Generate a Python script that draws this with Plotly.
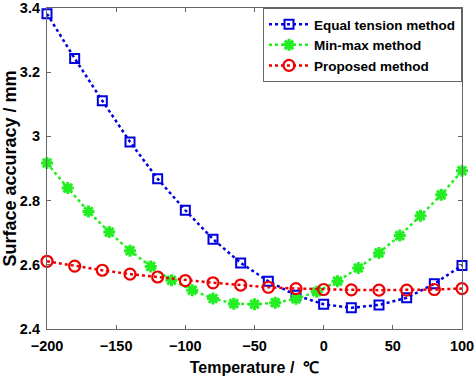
import plotly.graph_objects as go

x_eq = [-200, -180, -160, -140, -120, -100, -80, -60, -40, -20, 0, 20, 40, 60, 80, 100]
y_eq = [3.382, 3.243, 3.111, 2.983, 2.868, 2.770, 2.680, 2.606, 2.549, 2.505, 2.477, 2.466, 2.475, 2.497, 2.541, 2.598]

x_mm = [-200, -185, -170, -155, -140, -125, -110, -95, -80, -65, -50, -35, -20, -5, 10, 25, 40, 55, 70, 85, 100]
y_mm = [2.917, 2.839, 2.766, 2.702, 2.644, 2.595, 2.552, 2.521, 2.495, 2.479, 2.477, 2.482, 2.494, 2.516, 2.549, 2.590, 2.637, 2.691, 2.753, 2.818, 2.893]

x_pr = [-200, -180, -160, -140, -120, -100, -80, -60, -40, -20, 0, 20, 40, 60, 80, 100]
y_pr = [2.611, 2.596, 2.583, 2.571, 2.562, 2.551, 2.544, 2.537, 2.530, 2.526, 2.523, 2.522, 2.521, 2.521, 2.523, 2.526]

names = ["Equal tension method", "Min-max method", "Proposed method"]
x_ticks = [-200, -150, -100, -50, 0, 50, 100]
y_ticks = [2.4, 2.6, 2.8, 3.0, 3.2, 3.4]
y_ticktext = ["2.4", "2.6", "2.8", "3", "3.2", "3.4"]

FAM = "Liberation Sans, Arial, sans-serif"
tick_font = dict(family=FAM, size=14.5, color="black", weight="bold")

fig = go.Figure()
fig.add_trace(go.Scatter(
    x=x_eq, y=y_eq, name=names[0], mode="lines+markers", cliponaxis=False,
    line=dict(color="#0000e0", width=2.5, dash="dot"),
    marker=dict(symbol="square-open", size=9, color="#0000e0", line=dict(width=2, color="#0000e0")),
))
fig.add_trace(go.Scatter(
    x=x_mm, y=y_mm, name=names[1], mode="lines+markers", cliponaxis=False,
    line=dict(color="#22ee22", width=2.5, dash="dot"),
    marker=dict(symbol="asterisk-open", size=10, color="#22ee22", line=dict(width=3, color="#22ee22")),
))
fig.add_trace(go.Scatter(
    x=x_pr, y=y_pr, name=names[2], mode="lines+markers", cliponaxis=False,
    line=dict(color="#ee0000", width=2.5, dash="dot"),
    marker=dict(symbol="circle-open", size=11, color="#ee0000", line=dict(width=2.2, color="#ee0000")),
))

axis_common = dict(
    showgrid=False, zeroline=False, showline=True, linecolor="#666666", linewidth=1.2,
    mirror="ticks", ticks="inside", ticklen=4, tickcolor="#666666",
    tickfont=tick_font, ticklabeloverflow="allow", automargin=False,
)

fig.update_layout(
    width=474, height=376,
    margin=dict(l=47, r=12, t=8, b=47),
    paper_bgcolor="white", plot_bgcolor="white",
    font=tick_font,
    xaxis=dict(range=[-200, 100], tickvals=x_ticks, ticklabelstandoff=3,
               title=dict(text="Temperature /  ℃", font=dict(family=FAM, size=16, color="black", weight="bold")),
               **axis_common),
    yaxis=dict(range=[2.4, 3.4001], tickvals=y_ticks, ticktext=y_ticktext, ticklabelstandoff=3,
               title=dict(text="Surface accuracy / mm", font=dict(family=FAM, size=18, color="black", weight="bold")),
               **axis_common),
    legend=dict(x=1, y=1, xanchor="right", yanchor="top", bgcolor="white",
                bordercolor="#666666", borderwidth=1,
                font=dict(family=FAM, size=13.5, color="black", weight="bold"),
                tracegroupgap=0, itemwidth=40),
    showlegend=True,
)

fig.write_html("out.html", config={"displayModeBar": False},
               post_script="document.body.style.margin='0px';")
